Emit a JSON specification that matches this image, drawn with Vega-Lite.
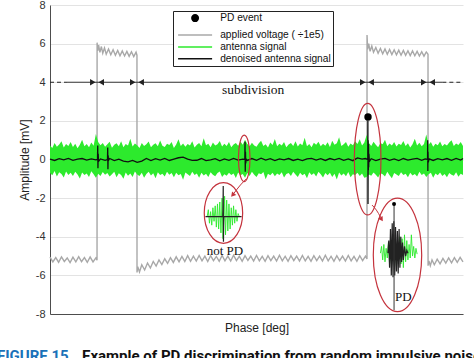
{
  "$schema": "https://vega.github.io/schema/vega-lite/v6.json",
  "width": 413,
  "height": 309,
  "autosize": {"type": "none"},
  "padding": {"left": 50, "top": 5, "right": 11, "bottom": 44},
  "background": "white",
  "config": {
    "view": {"stroke": null},
    "font": "Liberation Sans",
    "axis": {
      "domainColor": "#4d4d4d",
      "labelColor": "#333333",
      "titleColor": "#222222",
      "labelFont": "Liberation Sans",
      "titleFont": "Liberation Sans",
      "titleFontWeight": "normal",
      "labelFontSize": 11,
      "titleFontSize": 12,
      "gridColor": "#e3e3e3"
    }
  },
  "datasets": {
    "voltage": [
      {"phase":0,"value":-5.05},{"phase":2.5,"value":-5.3},{"phase":5,"value":-5.08},{"phase":7.5,"value":-5.32},{"phase":10,"value":-5.04},{"phase":12.5,"value":-5.28},{"phase":15,"value":-5.1},{"phase":17.5,"value":-5.34},{"phase":20,"value":-5.06},{"phase":22.5,"value":-5.3},{"phase":25,"value":-5.03},{"phase":27.5,"value":-5.29},{"phase":30,"value":-5.08},{"phase":32.5,"value":-5.33},{"phase":35,"value":-5.05},{"phase":37.5,"value":-5.3},{"phase":40,"value":-5.09},{"phase":41,"value":-5.22},
      {"phase":41.05,"value":6.05},{"phase":41.6,"value":5.62},{"phase":42.4,"value":5.92},{"phase":43.5,"value":5.55},{"phase":44.8,"value":5.85},{"phase":46,"value":5.5},{"phase":47.5,"value":5.78},{"phase":49,"value":5.45},{"phase":51,"value":5.72},{"phase":53,"value":5.42},{"phase":55,"value":5.68},{"phase":57,"value":5.4},{"phase":59,"value":5.65},{"phase":61,"value":5.37},{"phase":63,"value":5.62},{"phase":65,"value":5.36},{"phase":67,"value":5.6},{"phase":69,"value":5.34},{"phase":71,"value":5.58},{"phase":73,"value":5.33},{"phase":75,"value":5.56},{"phase":75.8,"value":5.4},
      {"phase":75.85,"value":-5.85},{"phase":76.5,"value":-5.55},{"phase":78,"value":-5.82},{"phase":80,"value":-5.45},{"phase":82.5,"value":-5.72},{"phase":85,"value":-5.36},{"phase":87.5,"value":-5.62},{"phase":90,"value":-5.28},{"phase":92.5,"value":-5.52},{"phase":95,"value":-5.2},{"phase":97.5,"value":-5.44},{"phase":100,"value":-5.14},{"phase":102.5,"value":-5.38},{"phase":105,"value":-5.08},{"phase":107.5,"value":-5.33},{"phase":110,"value":-5.04},{"phase":112.5,"value":-5.3},{"phase":115,"value":-5.02},{"phase":117.5,"value":-5.28},{"phase":120,"value":-4.98},{"phase":122.5,"value":-5.27},{"phase":125,"value":-5.01},{"phase":127.5,"value":-5.26},{"phase":130,"value":-4.97},{"phase":132.5,"value":-5.25},{"phase":135,"value":-5.0},{"phase":137.5,"value":-5.28},{"phase":140,"value":-4.98},{"phase":142.5,"value":-5.24},{"phase":145,"value":-5.02},{"phase":147.5,"value":-5.27},{"phase":150,"value":-4.97},{"phase":152.5,"value":-5.25},{"phase":155,"value":-5.0},{"phase":157.5,"value":-5.26},{"phase":160,"value":-4.96},{"phase":162.5,"value":-5.24},{"phase":165,"value":-5.01},{"phase":167.5,"value":-5.27},{"phase":170,"value":-4.98},{"phase":172.5,"value":-5.23},{"phase":175,"value":-5.0},{"phase":177.5,"value":-5.26},{"phase":180,"value":-4.97},{"phase":182.5,"value":-5.25},{"phase":185,"value":-5.02},{"phase":187.5,"value":-5.27},{"phase":190,"value":-4.98},{"phase":192.5,"value":-5.24},{"phase":195,"value":-5.0},{"phase":197.5,"value":-5.26},{"phase":200,"value":-4.96},{"phase":202.5,"value":-5.25},{"phase":205,"value":-5.01},{"phase":207.5,"value":-5.27},{"phase":210,"value":-4.98},{"phase":212.5,"value":-5.24},{"phase":215,"value":-5.0},{"phase":217.5,"value":-5.26},{"phase":220,"value":-4.97},{"phase":222.5,"value":-5.25},{"phase":225,"value":-5.02},{"phase":227.5,"value":-5.27},{"phase":230,"value":-4.98},{"phase":232.5,"value":-5.24},{"phase":235,"value":-5.0},{"phase":237.5,"value":-5.26},{"phase":240,"value":-4.96},{"phase":242.5,"value":-5.25},{"phase":245,"value":-5.01},{"phase":247.5,"value":-5.27},{"phase":250,"value":-4.98},{"phase":252.5,"value":-5.24},{"phase":255,"value":-5.0},{"phase":257.5,"value":-5.26},{"phase":260,"value":-4.97},{"phase":262.5,"value":-5.25},{"phase":265,"value":-5.02},{"phase":267.5,"value":-5.27},{"phase":270,"value":-4.98},{"phase":272.5,"value":-5.24},{"phase":275,"value":-5.0},{"phase":276.3,"value":-5.15},
      {"phase":276.35,"value":6.45},{"phase":276.9,"value":5.7},{"phase":277.8,"value":6.0},{"phase":279,"value":5.6},{"phase":280.5,"value":5.88},{"phase":282,"value":5.55},{"phase":284,"value":5.8},{"phase":286,"value":5.5},{"phase":288,"value":5.75},{"phase":290,"value":5.47},{"phase":292,"value":5.72},{"phase":294,"value":5.45},{"phase":296,"value":5.7},{"phase":298,"value":5.43},{"phase":300,"value":5.68},{"phase":302,"value":5.42},{"phase":304,"value":5.66},{"phase":306,"value":5.4},{"phase":308,"value":5.65},{"phase":310,"value":5.39},{"phase":312,"value":5.63},{"phase":314,"value":5.38},{"phase":316,"value":5.62},{"phase":318,"value":5.37},{"phase":320,"value":5.6},{"phase":322,"value":5.36},{"phase":324,"value":5.58},{"phase":326,"value":5.35},{"phase":328,"value":5.57},{"phase":329.5,"value":5.45},
      {"phase":329.55,"value":-5.5},{"phase":330.3,"value":-5.25},{"phase":331.5,"value":-5.5},{"phase":333,"value":-5.2},{"phase":335,"value":-5.45},{"phase":337.5,"value":-5.16},{"phase":340,"value":-5.4},{"phase":342.5,"value":-5.12},{"phase":345,"value":-5.37},{"phase":347.5,"value":-5.1},{"phase":350,"value":-5.35},{"phase":352.5,"value":-5.08},{"phase":355,"value":-5.33},{"phase":357.5,"value":-5.07},{"phase":360,"value":-5.3}
    ],
    "antenna": [
      {"phase":0,"value":0.72,"lo":-0.7},{"phase":2,"value":0.6,"lo":-0.82},{"phase":4,"value":0.85,"lo":-0.6},{"phase":6,"value":0.66,"lo":-0.88},{"phase":8,"value":0.78,"lo":-0.66},{"phase":10,"value":0.95,"lo":-0.75},{"phase":12,"value":0.62,"lo":-0.93},{"phase":14,"value":0.8,"lo":-0.62},{"phase":16,"value":0.7,"lo":-0.8},{"phase":18,"value":0.9,"lo":-0.69},
      {"phase":20,"value":0.65,"lo":-0.85},{"phase":22,"value":0.82,"lo":-0.64},{"phase":24,"value":0.58,"lo":-0.78},{"phase":26,"value":0.76,"lo":-0.98},{"phase":28,"value":1.02,"lo":-0.67},{"phase":30,"value":0.68,"lo":-0.8},{"phase":32,"value":0.8,"lo":-0.72},{"phase":34,"value":0.63,"lo":-0.9},{"phase":36,"value":0.88,"lo":-0.61},{"phase":38,"value":0.71,"lo":-0.77},
      {"phase":40,"value":1.32,"lo":-0.95},{"phase":42,"value":0.9,"lo":-0.74},{"phase":44,"value":0.74,"lo":-0.86},{"phase":46,"value":0.85,"lo":-0.65},{"phase":48,"value":0.66,"lo":-0.79},{"phase":50,"value":0.79,"lo":-0.7},{"phase":52,"value":0.92,"lo":-0.88},{"phase":54,"value":0.61,"lo":-0.76},{"phase":56,"value":0.77,"lo":-0.63},{"phase":58,"value":0.84,"lo":-0.92},
      {"phase":60,"value":0.69,"lo":-0.71},{"phase":62,"value":0.95,"lo":-0.8},{"phase":64,"value":0.64,"lo":-1.0},{"phase":66,"value":0.8,"lo":-0.67},{"phase":68,"value":0.72,"lo":-0.84},{"phase":70,"value":1.08,"lo":-0.73},{"phase":72,"value":0.67,"lo":-0.9},{"phase":74,"value":0.83,"lo":-0.62},{"phase":76,"value":0.74,"lo":-0.78},{"phase":78,"value":0.6,"lo":-0.86},
      {"phase":80,"value":0.86,"lo":-0.69},{"phase":82,"value":0.7,"lo":-0.94},{"phase":84,"value":0.79,"lo":-0.75},{"phase":86,"value":0.93,"lo":-0.64},{"phase":88,"value":0.63,"lo":-0.83},{"phase":90,"value":0.76,"lo":-0.71},{"phase":92,"value":0.84,"lo":-0.97},{"phase":94,"value":0.68,"lo":-0.66},{"phase":96,"value":0.98,"lo":-0.8},{"phase":98,"value":0.71,"lo":-0.74},
      {"phase":100,"value":0.65,"lo":-0.88},{"phase":102,"value":0.82,"lo":-0.63},{"phase":104,"value":0.75,"lo":-0.79},{"phase":106,"value":0.9,"lo":-0.7},{"phase":108,"value":0.6,"lo":-0.92},{"phase":110,"value":0.78,"lo":-0.68},{"phase":112,"value":1.05,"lo":-0.81},{"phase":114,"value":0.7,"lo":-0.75},{"phase":116,"value":0.83,"lo":-1.05},{"phase":118,"value":0.66,"lo":-0.67},
      {"phase":120,"value":0.8,"lo":-0.77},{"phase":122,"value":0.73,"lo":-0.86},{"phase":124,"value":0.94,"lo":-0.64},{"phase":126,"value":0.62,"lo":-0.8},{"phase":128,"value":0.77,"lo":-0.72},{"phase":130,"value":0.86,"lo":-0.95},{"phase":132,"value":0.69,"lo":-0.69},{"phase":134,"value":1.1,"lo":-0.83},{"phase":136,"value":0.74,"lo":-0.74},{"phase":138,"value":0.81,"lo":-0.9},
      {"phase":140,"value":0.64,"lo":-0.66},{"phase":142,"value":0.88,"lo":-0.79},{"phase":144,"value":0.72,"lo":-0.87},{"phase":146,"value":0.79,"lo":-0.7},{"phase":148,"value":0.96,"lo":-0.62},{"phase":150,"value":0.67,"lo":-0.91},{"phase":152,"value":0.82,"lo":-0.76},{"phase":154,"value":0.7,"lo":-0.84},{"phase":156,"value":0.9,"lo":-0.68},{"phase":158,"value":0.63,"lo":-0.8},
      {"phase":160,"value":0.78,"lo":-0.73},{"phase":162,"value":0.85,"lo":-0.96},{"phase":164,"value":0.71,"lo":-0.67},{"phase":166,"value":0.93,"lo":-0.81},{"phase":168,"value":0.76,"lo":-0.75},{"phase":170,"value":1.02,"lo":-0.95},{"phase":172,"value":0.8,"lo":-0.7},{"phase":174,"value":0.68,"lo":-0.86},{"phase":176,"value":0.87,"lo":-0.64},{"phase":178,"value":0.73,"lo":-0.79},
      {"phase":180,"value":0.66,"lo":-0.9},{"phase":182,"value":0.84,"lo":-0.71},{"phase":184,"value":0.97,"lo":-0.77},{"phase":186,"value":0.7,"lo":-0.65},{"phase":188,"value":0.79,"lo":-1.02},{"phase":190,"value":0.62,"lo":-0.74},{"phase":192,"value":0.88,"lo":-0.82},{"phase":194,"value":0.75,"lo":-0.68},{"phase":196,"value":1.06,"lo":-0.87},{"phase":198,"value":0.69,"lo":-0.72},
      {"phase":200,"value":0.81,"lo":-0.8},{"phase":202,"value":0.72,"lo":-0.66},{"phase":204,"value":0.9,"lo":-0.93},{"phase":206,"value":0.64,"lo":-0.75},{"phase":208,"value":0.78,"lo":-0.7},{"phase":210,"value":0.86,"lo":-0.85},{"phase":212,"value":0.7,"lo":-0.63},{"phase":214,"value":0.95,"lo":-0.78},{"phase":216,"value":0.67,"lo":-0.91},{"phase":218,"value":0.83,"lo":-0.69},
      {"phase":220,"value":0.74,"lo":-0.82},{"phase":222,"value":1.12,"lo":-0.74},{"phase":224,"value":0.69,"lo":-0.97},{"phase":226,"value":0.8,"lo":-0.66},{"phase":228,"value":0.63,"lo":-0.8},{"phase":230,"value":0.87,"lo":-0.71},{"phase":232,"value":0.76,"lo":-0.88},{"phase":234,"value":0.92,"lo":-0.64},{"phase":236,"value":0.68,"lo":-0.76},{"phase":238,"value":0.82,"lo":-0.93},
      {"phase":240,"value":0.71,"lo":-0.7},{"phase":242,"value":0.89,"lo":-0.81},{"phase":244,"value":0.65,"lo":-0.68},{"phase":246,"value":0.97,"lo":-0.9},{"phase":248,"value":0.77,"lo":-0.74},{"phase":250,"value":0.84,"lo":-1.04},{"phase":252,"value":1.15,"lo":-0.67},{"phase":254,"value":0.7,"lo":-0.83},{"phase":256,"value":0.79,"lo":-0.72},{"phase":258,"value":0.9,"lo":-0.87},
      {"phase":260,"value":0.66,"lo":-0.65},{"phase":262,"value":0.83,"lo":-0.92},{"phase":264,"value":0.74,"lo":-0.76},{"phase":266,"value":0.95,"lo":-0.8},{"phase":268,"value":0.8,"lo":-0.69},{"phase":270,"value":1.05,"lo":-0.85},{"phase":272,"value":0.72,"lo":-0.73},{"phase":274,"value":0.88,"lo":-0.95},{"phase":276,"value":1.27,"lo":-0.9},{"phase":278,"value":0.85,"lo":-0.78},
      {"phase":280,"value":0.7,"lo":-0.84},{"phase":282,"value":0.92,"lo":-0.67},{"phase":284,"value":0.76,"lo":-0.79},{"phase":286,"value":0.64,"lo":-0.93},{"phase":288,"value":0.86,"lo":-0.71},{"phase":290,"value":0.79,"lo":-0.76},{"phase":292,"value":1.02,"lo":-0.88},{"phase":294,"value":0.68,"lo":-0.64},{"phase":296,"value":0.83,"lo":-0.82},{"phase":298,"value":0.73,"lo":-0.97},
      {"phase":300,"value":0.9,"lo":-0.7},{"phase":302,"value":0.67,"lo":-0.78},{"phase":304,"value":0.81,"lo":-0.86},{"phase":306,"value":0.75,"lo":-0.66},{"phase":308,"value":0.96,"lo":-0.8},{"phase":310,"value":0.7,"lo":-0.74},{"phase":312,"value":0.84,"lo":-0.92},{"phase":314,"value":0.62,"lo":-0.69},{"phase":316,"value":0.79,"lo":-0.83},{"phase":318,"value":1.08,"lo":-0.75},
      {"phase":320,"value":0.73,"lo":-0.88},{"phase":322,"value":0.87,"lo":-0.64},{"phase":324,"value":0.69,"lo":-0.8},{"phase":326,"value":0.8,"lo":-0.72},{"phase":328,"value":1.3,"lo":-0.9},{"phase":330,"value":0.76,"lo":-0.77},{"phase":332,"value":0.9,"lo":-0.68},{"phase":334,"value":0.66,"lo":-0.95},{"phase":336,"value":0.82,"lo":-0.73},{"phase":338,"value":0.74,"lo":-0.81},
      {"phase":340,"value":0.93,"lo":-0.67},{"phase":342,"value":0.68,"lo":-0.86},{"phase":344,"value":0.8,"lo":-0.75},{"phase":346,"value":0.72,"lo":-0.92},{"phase":348,"value":0.88,"lo":-0.7},{"phase":350,"value":1.0,"lo":-0.79},{"phase":352,"value":0.7,"lo":-0.84},{"phase":354,"value":0.83,"lo":-0.66},{"phase":356,"value":0.75,"lo":-0.89},{"phase":358,"value":0.9,"lo":-0.74},{"phase":360,"value":0.7,"lo":-0.8}
    ],
    "denoised": [
      {"phase":0,"value":0.02},{"phase":4,"value":-0.05},{"phase":8,"value":0.04},{"phase":12,"value":-0.02},{"phase":16,"value":0.06},{"phase":20,"value":-0.04},{"phase":24,"value":0.02},{"phase":28,"value":0.05},{"phase":32,"value":-0.03},{"phase":36,"value":0.03},{"phase":40,"value":-0.02},
      {"phase":41.4,"value":0.0},{"phase":41.6,"value":0.72},{"phase":41.8,"value":-0.45},{"phase":42.0,"value":0.3},{"phase":42.3,"value":-0.1},{"phase":44,"value":0.03},{"phase":48,"value":-0.04},
      {"phase":50.1,"value":0.0},{"phase":50.3,"value":0.62},{"phase":50.5,"value":-0.5},{"phase":50.7,"value":0.2},{"phase":51,"value":-0.05},{"phase":52,"value":0.05},{"phase":56,"value":-0.06},{"phase":60,"value":0.02},{"phase":64,"value":-0.08},{"phase":68,"value":-0.12},{"phase":72,"value":-0.05},{"phase":76,"value":-0.15},{"phase":80,"value":-0.08},{"phase":84,"value":0.05},{"phase":88,"value":-0.06},{"phase":92,"value":0.04},{"phase":96,"value":-0.03},{"phase":100,"value":0.06},{"phase":104,"value":-0.05},{"phase":108,"value":0.02},{"phase":112,"value":0.09},{"phase":116,"value":0.12},{"phase":120,"value":0.02},{"phase":124,"value":-0.05},{"phase":128,"value":-0.04},{"phase":132,"value":0.05},{"phase":136,"value":-0.06},{"phase":140,"value":-0.02},{"phase":144,"value":0.04},{"phase":148,"value":-0.07},{"phase":152,"value":0.03},{"phase":156,"value":-0.04},{"phase":160,"value":0.06},{"phase":164,"value":-0.03},{"phase":168,"value":0.02},
      {"phase":169.8,"value":0.0},{"phase":170,"value":0.92},{"phase":170.2,"value":-0.63},{"phase":170.4,"value":0.4},{"phase":170.6,"value":-0.2},{"phase":171,"value":0.02},{"phase":172,"value":-0.05},{"phase":176,"value":0.05},{"phase":180,"value":-0.04},{"phase":184,"value":0.07},{"phase":188,"value":-0.03},{"phase":192,"value":0.04},{"phase":196,"value":-0.06},{"phase":200,"value":0.03},{"phase":204,"value":-0.02},{"phase":208,"value":0.05},{"phase":212,"value":-0.05},{"phase":216,"value":0.02},{"phase":220,"value":-0.06},{"phase":224,"value":0.03},{"phase":228,"value":0.06},{"phase":232,"value":-0.03},{"phase":236,"value":0.04},{"phase":240,"value":-0.05},{"phase":244,"value":0.05},{"phase":248,"value":-0.02},{"phase":252,"value":0.06},{"phase":256,"value":-0.04},{"phase":260,"value":0.03},{"phase":264,"value":-0.06},{"phase":268,"value":0.08},{"phase":272,"value":0.02},{"phase":275,"value":0.05},
      {"phase":277.0,"value":0.0},{"phase":277.1,"value":2.0},{"phase":277.2,"value":-2.3},{"phase":277.35,"value":1.0},{"phase":277.5,"value":-0.55},{"phase":277.65,"value":0.8},{"phase":277.8,"value":-0.4},{"phase":278,"value":0.3},{"phase":278.4,"value":-0.1},{"phase":280,"value":0.04},{"phase":284,"value":-0.06},{"phase":288,"value":0.02},{"phase":292,"value":0.06},{"phase":296,"value":-0.04},{"phase":300,"value":0.03},{"phase":304,"value":-0.06},{"phase":308,"value":0.05},{"phase":312,"value":-0.03},{"phase":316,"value":0.02},{"phase":320,"value":0.06},{"phase":324,"value":-0.04},{"phase":327,"value":0.03},
      {"phase":329.1,"value":0.0},{"phase":329.2,"value":1.0},{"phase":329.35,"value":-0.6},{"phase":329.5,"value":0.4},{"phase":329.7,"value":-0.15},{"phase":330.5,"value":0.03},{"phase":334,"value":-0.05},{"phase":338,"value":0.04},{"phase":342,"value":-0.02},{"phase":346,"value":0.05},{"phase":350,"value":-0.04},{"phase":354,"value":0.06},{"phase":358,"value":-0.03},{"phase":360,"value":0.05}
    ],
    "insetGreen": [
      {"grp":"a","phase":137,"value":-2.96},{"grp":"a","phase":138,"value":-2.6},{"grp":"a","phase":139,"value":-3.3},{"grp":"a","phase":140,"value":-2.7},{"grp":"a","phase":141,"value":-3.4},{"grp":"a","phase":142,"value":-2.5},{"grp":"a","phase":143,"value":-3.2},{"grp":"a","phase":144,"value":-2.4},{"grp":"a","phase":145,"value":-3.5},{"grp":"a","phase":146,"value":-2.3},{"grp":"a","phase":147,"value":-3.6},{"grp":"a","phase":148,"value":-2.2},{"grp":"a","phase":149,"value":-3.8},{"grp":"a","phase":150,"value":-2.0},{"grp":"a","phase":150.8,"value":-4.1},{"grp":"a","phase":152.2,"value":-1.9},{"grp":"a","phase":153,"value":-3.9},{"grp":"a","phase":154,"value":-2.1},{"grp":"a","phase":155,"value":-3.7},{"grp":"a","phase":156,"value":-2.3},{"grp":"a","phase":157,"value":-3.6},{"grp":"a","phase":158,"value":-2.5},{"grp":"a","phase":159,"value":-3.4},{"grp":"a","phase":160,"value":-2.4},{"grp":"a","phase":161,"value":-3.3},{"grp":"a","phase":162,"value":-2.6},{"grp":"a","phase":163,"value":-3.2},{"grp":"a","phase":164,"value":-2.8},{"grp":"a","phase":165,"value":-2.96},
      {"grp":"b","phase":288,"value":-4.85},{"grp":"b","phase":289,"value":-4.5},{"grp":"b","phase":290,"value":-5.2},{"grp":"b","phase":291,"value":-4.4},{"grp":"b","phase":292,"value":-5.3},{"grp":"b","phase":293,"value":-4.6},{"grp":"b","phase":294,"value":-5.1},{"grp":"b","phase":295,"value":-4.3},{"grp":"b","phase":296,"value":-5.4},{"grp":"b","phase":297,"value":-4.5},{"grp":"b","phase":298,"value":-5.2},{"grp":"b","phase":299,"value":-4.4},{"grp":"b","phase":300,"value":-5.3},{"grp":"b","phase":301,"value":-4.2},{"grp":"b","phase":302,"value":-5.5},{"grp":"b","phase":303,"value":-4.3},{"grp":"b","phase":304,"value":-5.2},{"grp":"b","phase":305,"value":-4.0},{"grp":"b","phase":306,"value":-5.4},{"grp":"b","phase":307,"value":-4.1},{"grp":"b","phase":308,"value":-5.6},{"grp":"b","phase":309,"value":-3.9},{"grp":"b","phase":310,"value":-5.3},{"grp":"b","phase":311,"value":-4.2},{"grp":"b","phase":312,"value":-5.2},{"grp":"b","phase":313,"value":-4.4},{"grp":"b","phase":314,"value":-5.1},{"grp":"b","phase":315,"value":-3.9},{"grp":"b","phase":316,"value":-5.0},{"grp":"b","phase":317,"value":-4.5},{"grp":"b","phase":318,"value":-5.1},{"grp":"b","phase":319,"value":-4.6},{"grp":"b","phase":320,"value":-4.9}
    ],
    "insetBlack": [
      {"grp":"a","phase":135.5,"value":-2.96},{"grp":"a","phase":150.6,"value":-2.96},{"grp":"a","phase":150.8,"value":-2.6},{"grp":"a","phase":151.0,"value":-1.37},{"grp":"a","phase":151.2,"value":-4.26},{"grp":"a","phase":151.4,"value":-3.2},{"grp":"a","phase":151.6,"value":-2.96},{"grp":"a","phase":167,"value":-2.96},
      {"grp":"b","phase":294.5,"value":-4.85},{"grp":"b","phase":295.3,"value":-4.2},{"grp":"b","phase":296,"value":-5.6},{"grp":"b","phase":296.8,"value":-3.6},{"grp":"b","phase":297.5,"value":-6.0},{"grp":"b","phase":298.3,"value":-3.3},{"grp":"b","phase":299,"value":-6.1},{"grp":"b","phase":299.7,"value":-3.2},{"grp":"b","phase":300.5,"value":-6.0},{"grp":"b","phase":301.2,"value":-3.5},{"grp":"b","phase":302,"value":-5.8},{"grp":"b","phase":302.8,"value":-3.7},{"grp":"b","phase":303.5,"value":-5.9},{"grp":"b","phase":304.3,"value":-3.6},{"grp":"b","phase":305,"value":-5.6},{"grp":"b","phase":305.8,"value":-4.0},{"grp":"b","phase":306.5,"value":-5.3},{"grp":"b","phase":307.3,"value":-4.3},{"grp":"b","phase":308,"value":-5.2},{"grp":"b","phase":309,"value":-4.5},{"grp":"b","phase":310,"value":-5.0},{"grp":"b","phase":311,"value":-4.7},{"grp":"b","phase":312,"value":-4.85}
    ],
    "redArrows": [
      {"grp":"a","phase":171.2,"value":-1.0},{"grp":"a","phase":166,"value":-1.32},{"grp":"a","phase":160.2,"value":-1.76},
      {"grp":"b","phase":280.7,"value":-2.36},{"grp":"b","phase":284.5,"value":-2.62},{"grp":"b","phase":288.3,"value":-3.0}
    ]
  },
  "encoding": {
    "x": {
      "field": "phase",
      "type": "quantitative",
      "scale": {"domain": [0, 360], "nice": false, "zero": false},
      "axis": {"title": "Phase [deg]", "labels": false, "ticks": false, "grid": false, "titlePadding": 8}
    },
    "y": {
      "field": "value",
      "type": "quantitative",
      "scale": {"domain": [-8, 8], "nice": false},
      "axis": {
        "title": "Amplitude [mV]",
        "values": [-8, -6, -4, -2, 0, 2, 4, 6, 8],
        "grid": true,
        "ticks": false,
        "labelPadding": 5,
        "titlePadding": 4,
        "labelExpr": "datum.value + ''"
      }
    }
  },
  "layer": [
    {
      "data": {"name": "voltage"},
      "mark": {"type": "line", "strokeWidth": 1.4},
      "encoding": {
        "color": {
          "datum": "applied voltage ( \u00f71e5)",
          "type": "nominal",
          "scale": {
            "domain": ["PD event", "applied voltage ( \u00f71e5)", "antenna signal", "denoised antenna signal"],
            "range": ["#000000", "#a8a8a8", "#2dea2d", "#111111"]
          },
          "legend": {
            "title": null,
            "orient": "none",
            "legendX": 123,
            "legendY": 6,
            "fillColor": "white",
            "strokeColor": "#222222",
            "padding": 2,
            "rowPadding": 0.9,
            "labelFont": "Liberation Sans",
            "labelFontSize": 10.2,
            "labelColor": "#111111",
            "labelOffset": 20,
            "symbolOffset": 15,
            "symbolOpacity": 1,
            "symbolType": {"expr": "datum.value === 'PD event' ? 'circle' : 'stroke'"},
            "symbolSize": {"expr": "datum.value === 'PD event' ? 12 : 1156"},
            "symbolStrokeWidth": {"expr": "datum.value === 'PD event' ? 4.5 : 1.5"},
            "symbolStrokeColor": {"expr": "scale('color', datum.value)"},
            "symbolFillColor": {"expr": "datum.value === 'PD event' ? '#000000' : 'transparent'"}
          }
        }
      }
    },
    {
      "data": {"name": "antenna"},
      "mark": {"type": "area", "opacity": 1},
      "encoding": {
        "y2": {"field": "lo"},
        "color": {"datum": "antenna signal", "type": "nominal"}
      }
    },
    {
      "data": {"name": "denoised"},
      "mark": {"type": "line", "strokeWidth": 1.3},
      "encoding": {
        "color": {"datum": "denoised antenna signal", "type": "nominal"}
      }
    },
    {
      "data": {"values": [{"phase": 277.2, "value": 2.2}]},
      "mark": {"type": "point", "filled": true, "size": 55, "opacity": 1},
      "encoding": {
        "color": {"datum": "PD event", "type": "nominal"}
      }
    },
    {
      "data": {"values": [
        {"phase": 0, "phase2": 15, "value": 4, "kind": "dash"},
        {"phase": 15, "phase2": 342, "value": 4, "kind": "solid"},
        {"phase": 342, "phase2": 360, "value": 4, "kind": "dash"}
      ]},
      "mark": {"type": "rule", "color": "#222222", "strokeWidth": 1},
      "encoding": {
        "x2": {"field": "phase2"},
        "strokeDash": {"field": "kind", "type": "nominal", "scale": {"domain": ["solid", "dash"], "range": [[1, 0], [4, 3]]}, "legend": null}
      }
    },
    {
      "data": {"values": [
        {"phase": 37.3, "value": 4, "dir": "r"}, {"phase": 44.7, "value": 4, "dir": "l"},
        {"phase": 72.1, "value": 4, "dir": "r"}, {"phase": 79.5, "value": 4, "dir": "l"},
        {"phase": 272.6, "value": 4, "dir": "r"}, {"phase": 280.0, "value": 4, "dir": "l"},
        {"phase": 325.8, "value": 4, "dir": "r"}, {"phase": 333.2, "value": 4, "dir": "l"}
      ]},
      "mark": {"type": "point", "filled": true, "size": 40, "opacity": 1, "color": "#222222"},
      "encoding": {
        "shape": {"field": "dir", "type": "nominal", "scale": {"domain": ["r", "l"], "range": ["triangle-right", "triangle-left"]}, "legend": null}
      }
    },
    {
      "data": {"values": [{"phase": 177, "value": 3.6, "label": "subdivision"}]},
      "mark": {"type": "text", "font": "Liberation Serif", "fontSize": 13.5, "color": "#111111"},
      "encoding": {"text": {"field": "label"}}
    },
    {
      "data": {"name": "insetGreen"},
      "mark": {"type": "line", "strokeWidth": 0.9, "color": "#2dea2d"},
      "encoding": {"detail": {"field": "grp"}}
    },
    {
      "data": {"name": "insetBlack"},
      "mark": {"type": "line", "strokeWidth": 1.2, "color": "#222222"},
      "encoding": {"detail": {"field": "grp"}}
    },
    {
      "data": {"values": [{"phase": 299.9, "value": -2.3, "value2": -7.8}]},
      "mark": {"type": "rule", "color": "#333333", "strokeWidth": 1},
      "encoding": {"y2": {"field": "value2"}}
    },
    {
      "data": {"values": [{"phase": 299.9, "value": -2.3}]},
      "mark": {"type": "point", "filled": true, "size": 16, "opacity": 1, "color": "#000000"}
    },
    {
      "data": {"values": [{"phase": 169.3, "value": 0.06}]},
      "mark": {"type": "point", "shape": "M -5.8 0 A 5.8 23.3 0 1 0 5.8 0 A 5.8 23.3 0 1 0 -5.8 0 Z", "size": 4, "filled": false, "color": "#c4333d", "strokeWidth": 1.2, "opacity": 1}
    },
    {
      "data": {"values": [{"phase": 276.9, "value": 0.02}]},
      "mark": {"type": "point", "shape": "M -13.3 0 A 13.3 55.8 0 1 0 13.3 0 A 13.3 55.8 0 1 0 -13.3 0 Z", "size": 4, "filled": false, "color": "#c4333d", "strokeWidth": 1.2, "opacity": 1}
    },
    {
      "data": {"values": [{"phase": 151.2, "value": -2.77}]},
      "mark": {"type": "point", "shape": "M -19.2 0 A 19.2 30.3 0 1 0 19.2 0 A 19.2 30.3 0 1 0 -19.2 0 Z", "size": 4, "filled": false, "color": "#c4333d", "strokeWidth": 1.2, "opacity": 1}
    },
    {
      "data": {"values": [{"phase": 302.9, "value": -4.94}]},
      "mark": {"type": "point", "shape": "M -24.2 0 A 24.2 56.7 0 1 0 24.2 0 A 24.2 56.7 0 1 0 -24.2 0 Z", "size": 4, "filled": false, "color": "#c4333d", "strokeWidth": 1.2, "opacity": 1}
    },
    {
      "data": {"name": "redArrows"},
      "mark": {"type": "line", "strokeWidth": 1, "color": "#c4333d", "interpolate": "monotone"},
      "encoding": {"detail": {"field": "grp"}}
    },
    {
      "data": {"values": [{"phase": 159.2, "value": -1.84}]},
      "mark": {"type": "point", "shape": "triangle-up", "angle": 221, "filled": true, "size": 30, "opacity": 1, "color": "#c4333d"}
    },
    {
      "data": {"values": [{"phase": 289.0, "value": -3.1}]},
      "mark": {"type": "point", "shape": "triangle-up", "angle": 147, "filled": true, "size": 30, "opacity": 1, "color": "#c4333d"}
    },
    {
      "data": {"values": [{"phase": 152.5, "value": -4.72, "label": "not PD"}, {"phase": 308, "value": -7.1, "label": "PD"}]},
      "mark": {"type": "text", "font": "Liberation Serif", "fontSize": 13, "color": "#111111"},
      "encoding": {"text": {"field": "label"}}
    },
    {
      "data": {"values": [{"phase": -46.2, "value": -9.8, "label": "FIGURE 15."}]},
      "mark": {"type": "text", "font": "Roboto", "fontSize": 15, "fontWeight": "bold", "color": "#1a71b8", "align": "left", "baseline": "top"},
      "encoding": {"text": {"field": "label"}}
    },
    {
      "data": {"values": [{"phase": 27.9, "value": -9.8, "label": "Example of PD discrimination from random impulsive noise"}]},
      "mark": {"type": "text", "font": "Roboto", "fontSize": 15, "fontWeight": "bold", "color": "#111111", "align": "left", "baseline": "top"},
      "encoding": {"text": {"field": "label"}}
    }
  ]
}
